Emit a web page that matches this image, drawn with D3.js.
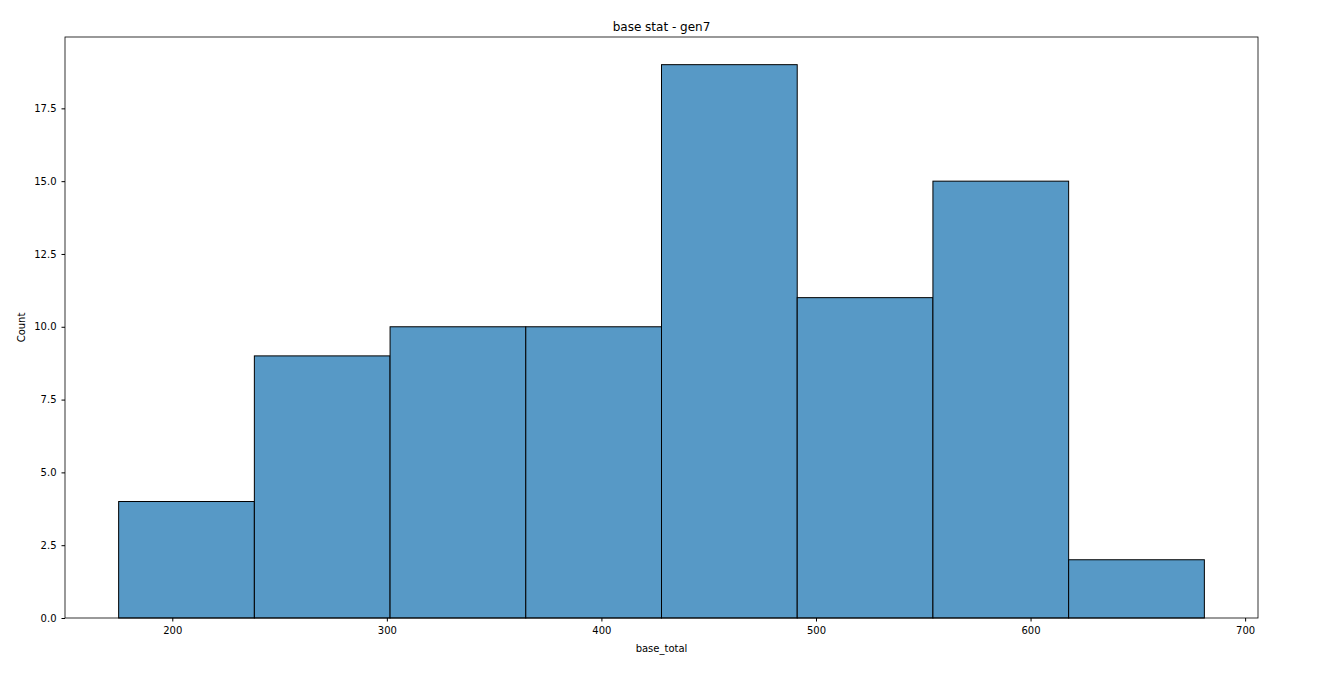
<!DOCTYPE html>
<html>
<head>
<meta charset="utf-8">
<script src="https://cdn.jsdelivr.net/npm/d3@7"></script>
<style>
  body { margin: 0; background: #fff; }
  text { font-family: "DejaVu Sans", sans-serif; fill: #000; }
</style>
</head>
<body>
<svg id="chart" width="1330" height="686"></svg>
<script>
// histogram of base_total, gen7
const binEdges = [175, 238.25, 301.5, 364.75, 428, 491.25, 554.5, 617.75, 681];
const counts = [4, 9, 10, 10, 19, 11, 15, 2];
const xTicks = [200, 300, 400, 500, 600, 700];
const yTicks = [0, 2.5, 5, 7.5, 10, 12.5, 15, 17.5];

const margin = { top: 37, right: 72, bottom: 68, left: 65 };
const width = 1330 - margin.left - margin.right;
const height = 686 - margin.top - margin.bottom;

const svg = d3.select('#chart');
const g = svg.append('g').attr('transform', `translate(${margin.left},${margin.top})`);

const x = d3.scaleLinear().domain([150, 706]).range([0, width]);
const y = d3.scaleLinear().domain([0, 19.95]).range([height, 0]);

const bins = counts.map((c, i) => ({ x0: binEdges[i], x1: binEdges[i + 1], count: c }));

g.selectAll('.bar')
  .data(bins)
  .enter()
  .append('rect')
  .attr('class', 'bar')
  .attr('x', d => x(d.x0))
  .attr('y', d => y(d.count))
  .attr('width', d => x(d.x1) - x(d.x0))
  .attr('height', d => y(0) - y(d.count))
  .attr('fill', '#5799c6')
  .attr('stroke', '#000')
  .attr('stroke-width', 1);

const xAxis = g.append('g')
  .attr('transform', `translate(0,${height})`)
  .call(d3.axisBottom(x).tickValues(xTicks).tickSize(3.5).tickPadding(5));
const yAxis = g.append('g')
  .call(d3.axisLeft(y).tickValues(yTicks).tickFormat(d3.format('.1f')).tickSize(3.5).tickPadding(5));

[xAxis, yAxis].forEach(a => {
  a.select('.domain').remove();
  a.selectAll('text').style('font-size', '10px');
  a.selectAll('line').attr('stroke', '#000');
});

g.append('rect')
  .attr('width', width)
  .attr('height', height)
  .attr('fill', 'none')
  .attr('stroke', '#000')
  .attr('stroke-width', 0.8);

svg.append('text')
  .attr('x', margin.left + width / 2)
  .attr('y', 31)
  .attr('text-anchor', 'middle')
  .style('font-size', '12px')
  .text('base stat - gen7');

svg.append('text')
  .attr('x', margin.left + width / 2)
  .attr('y', 652)
  .attr('text-anchor', 'middle')
  .style('font-size', '10px')
  .text('base_total');

svg.append('text')
  .attr('transform', `translate(25,${margin.top + height / 2}) rotate(-90)`)
  .attr('text-anchor', 'middle')
  .style('font-size', '10px')
  .text('Count');
</script>
</body>
</html>
